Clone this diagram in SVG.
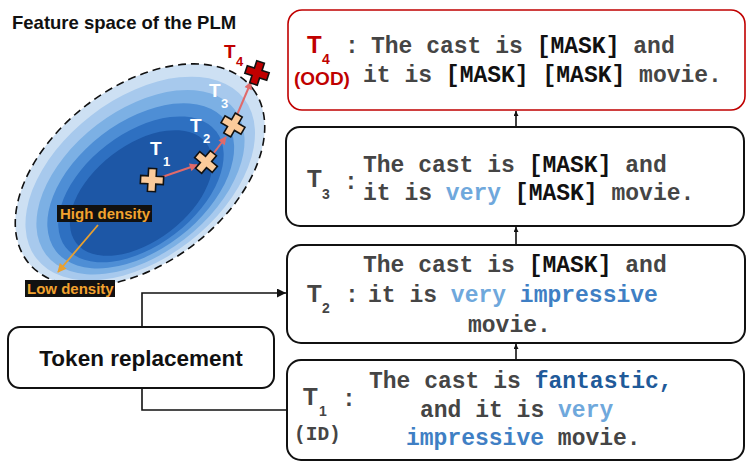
<svg xmlns="http://www.w3.org/2000/svg" width="756" height="467" viewBox="0 0 756 467">
<defs>
<style>
.box{fill:#fff;stroke:#111;stroke-width:2}
.mono{font-family:"Liberation Mono","Courier New",monospace;font-weight:bold;font-size:23px;fill:#454545}
.mask{fill:#111}
.lb{fill:#6fa8dc}
.mb{fill:#3f7fc4}
.db{fill:#1f5a99}
.tl{font-family:"Liberation Sans",Arial,sans-serif;font-weight:bold;font-size:24px;fill:#454545}
.sub{font-family:"Liberation Sans",Arial,sans-serif;font-weight:bold;font-size:14px;fill:#454545}
.wt{font-family:"Liberation Sans",Arial,sans-serif;font-weight:bold;fill:#fff}
.dens{font-family:"Liberation Sans",Arial,sans-serif;font-weight:bold;font-size:15px;fill:#f2a22e}
.conn{fill:none;stroke:#111;stroke-width:1.6}
.red{fill:none;stroke:#e06a6a;stroke-width:2}
.cross{fill:#fbcb9b;stroke:#111;stroke-width:1.6}
</style>
<path id="plus" d="M-4,-11.5 H4 V-4 H11.5 V4 H4 V11.5 H-4 V4 H-11.5 V-4 H-4 Z"/>
<marker id="ah" viewBox="0 0 10 10" refX="10" refY="5" markerWidth="12" markerHeight="9" markerUnits="userSpaceOnUse" orient="auto"><path d="M0,0 L10,5 L0,10 Z" fill="#111"/></marker>
<marker id="ahs" viewBox="0 0 10 10" refX="10" refY="5" markerWidth="6" markerHeight="5" markerUnits="userSpaceOnUse" orient="auto"><path d="M0,0 L10,5 L0,10 Z" fill="#111"/></marker>
<marker id="ahr" viewBox="0 0 10 10" refX="9" refY="5" markerWidth="9" markerHeight="8" markerUnits="userSpaceOnUse" orient="auto"><path d="M0,0 L10,5 L0,10 Z" fill="#e06a6a"/></marker>
<marker id="aho" viewBox="0 0 10 10" refX="9" refY="5" markerWidth="11" markerHeight="9" markerUnits="userSpaceOnUse" orient="auto"><path d="M0,0 L10,5 L0,10 Z" fill="#e8a030"/></marker>
</defs>
<rect width="756" height="467" fill="#fff"/>

<g id="feature-space">
<text x="12" y="29" font-family="Liberation Sans,Arial,sans-serif" font-weight="bold" font-size="18.5" fill="#111">Feature space of the PLM</text>
<g transform="rotate(-37.5 140 175)">
<ellipse cx="140" cy="175" rx="142" ry="88" fill="#cde0f3"/>
<ellipse cx="138" cy="178" rx="131" ry="80" fill="#a7c9ed"/>
<ellipse cx="136" cy="181" rx="119" ry="72" fill="#7cb0e4"/>
<ellipse cx="134" cy="184" rx="107" ry="64" fill="#4e8ed5"/>
<ellipse cx="132" cy="187" rx="95" ry="56" fill="#2e70c1"/>
<ellipse cx="130" cy="190" rx="82" ry="48" fill="#1d57a6"/>
<ellipse cx="140" cy="175" rx="142" ry="88" fill="none" stroke="#111" stroke-width="1.6" stroke-dasharray="8,5"/>
</g>
<rect x="57" y="205" width="95" height="17" fill="#111"/>
<text x="60" y="219" class="dens">High density</text>
<rect x="25" y="280" width="90" height="17" fill="#111"/>
<text x="27" y="294" class="dens">Low density</text>
<line x1="98" y1="225" x2="58" y2="272" stroke="#e8a030" stroke-width="1.8" marker-end="url(#aho)"/>
<line x1="162" y1="177" x2="197" y2="165" class="red" marker-end="url(#ahr)"/>
<line x1="213" y1="154" x2="226" y2="137" class="red" marker-end="url(#ahr)"/>
<line x1="237" y1="115" x2="251" y2="82" class="red" marker-end="url(#ahr)"/>
<use href="#plus" transform="translate(152 180) rotate(3)" class="cross"/>
<use href="#plus" transform="translate(206 162) rotate(40)" class="cross"/>
<use href="#plus" transform="translate(233 125) rotate(30)" class="cross"/>
<use href="#plus" transform="translate(257 73) rotate(18)" fill="#c00000" stroke="#111" stroke-width="1.6"/>
<text x="150" y="155" class="wt" font-size="19">T</text><text x="163" y="166" class="wt" font-size="13">1</text>
<text x="190" y="132" class="wt" font-size="19">T</text><text x="203" y="143" class="wt" font-size="13">2</text>
<text x="209" y="97" class="wt" font-size="19">T</text><text x="221" y="108" class="wt" font-size="13">3</text>
<text x="224" y="58" class="wt" font-size="19" style="fill:#c00000">T</text><text x="236" y="66" class="wt" font-size="13" style="fill:#c00000">4</text>
</g>

<g id="connectors">
<path d="M142,327 V293 H286" class="conn" marker-end="url(#ah)"/>
<path d="M142,388 V410 H287" class="conn"/>
<line x1="516" y1="360" x2="516" y2="344" class="conn" stroke-width="1.2" marker-end="url(#ahs)"/>
<line x1="516" y1="245" x2="516" y2="227" class="conn" stroke-width="1.2" marker-end="url(#ahs)"/>
<line x1="516" y1="127" x2="516" y2="111" class="conn" stroke-width="1.2" marker-end="url(#ahs)"/>
</g>

<g id="token-replacement">
<rect x="8" y="327" width="266" height="61" rx="12" class="box"/>
<text x="141" y="366" text-anchor="middle" font-family="Liberation Sans,Arial,sans-serif" font-weight="bold" font-size="22.5" fill="#111">Token replacement</text>
</g>

<g id="t4">
<rect x="288" y="10" width="457" height="100" rx="14" fill="#fff" stroke="#c00000" stroke-width="1.6"/>
<text x="307" y="53" class="tl" style="fill:#c00000">T</text><text x="322" y="64" class="sub" style="fill:#c00000">4</text>
<text x="294" y="85" font-family="Liberation Sans,Arial,sans-serif" font-weight="bold" font-size="19" fill="#c00000">(OOD)</text>
<text x="352" y="53" class="mono" text-anchor="middle">:</text>
<text x="371" y="53" class="mono">The cast is <tspan class="mask">[MASK]</tspan> and</text>
<text x="363" y="82" class="mono">it is <tspan class="mask">[MASK]</tspan> <tspan class="mask">[MASK]</tspan> movie.</text>
</g>

<g id="t3">
<rect x="286" y="127" width="458" height="99" rx="14" class="box"/>
<text x="307" y="187" class="tl">T</text><text x="322" y="199" class="sub">3</text>
<text x="351" y="189" class="mono" text-anchor="middle">:</text>
<text x="363" y="172" class="mono">The cast is <tspan class="mask">[MASK]</tspan> and</text>
<text x="363" y="200" class="mono">it is <tspan class="lb">very</tspan> <tspan class="mask">[MASK]</tspan> movie.</text>
</g>

<g id="t2">
<rect x="287" y="245" width="458" height="98" rx="14" class="box"/>
<text x="363" y="272" class="mono">The cast is <tspan class="mask">[MASK]</tspan> and</text>
<text x="307" y="302" class="tl">T</text><text x="322" y="313" class="sub">2</text>
<text x="352" y="302" class="mono" text-anchor="middle">:</text>
<text x="368" y="302" class="mono">it is <tspan class="lb">very</tspan> <tspan class="mb">impressive</tspan></text>
<text x="468" y="332" class="mono">movie.</text>
</g>

<g id="t1">
<rect x="287" y="360" width="457" height="100" rx="14" class="box"/>
<text x="303" y="405" class="tl">T</text><text x="319" y="416" class="sub">1</text>
<text x="349" y="406" class="mono" text-anchor="middle">:</text>
<text x="294" y="440" font-family="Liberation Mono,Courier New,monospace" font-weight="bold" font-size="19.5" fill="#454545">(ID)</text>
<text x="369" y="388" class="mono">The cast is <tspan class="db">fantastic,</tspan></text>
<text x="420" y="417" class="mono">and it is <tspan class="lb">very</tspan></text>
<text x="406" y="445" class="mono"><tspan class="mb">impressive</tspan> movie.</text>
</g>
</svg>
